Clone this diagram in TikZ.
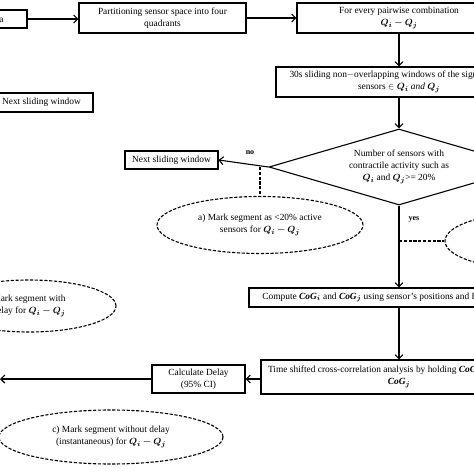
\documentclass[tikz,border=0pt]{standalone}
\usepackage{fontspec}
\setmainfont{Liberation Serif}
\usepackage{amsmath,bm}
\usetikzlibrary{arrows.meta,shapes.geometric}
\newcommand{\cogsub}[1]{\textbf{\textit{CoG}}$_{\bm{#1}}$}

\begin{document}
\begin{tikzpicture}[x=1pt, y=-1pt,
  font=\fontsize{9.4}{12}\selectfont,
  sbox/.style={draw=black, line width=1.1pt, align=center, inner sep=1pt},
  dbox/.style={diamond, draw=black, line width=1.1pt, align=center,
               inner sep=0pt, aspect=3.4},
  markell/.style={ellipse, draw=black, line width=1.1pt,
                  dash pattern=on 3.2pt off 1.6pt, align=center, inner sep=0pt},
  arr/.style={-{Straight Barb[length=4pt, width=8pt]}, line width=1.1pt},
  darr/.style={line width=1.1pt, dash pattern=on 3.2pt off 1.6pt},
  lab/.style={font=\fontsize{8}{10}\selectfont\bfseries, inner sep=1pt}
]
\useasboundingbox (0,0) rectangle (474,474);
\clip (0,0) rectangle (474,474);
% ----- top row -----
\node[sbox, minimum width=82pt, minimum height=18pt] (raw) at (-14,19) {Raw data};
\node[sbox, minimum width=167pt, minimum height=30pt] (quad) at (162.5,18)
  {Partitioning sensor space into four\\quadrants};
\node[sbox, minimum width=204pt, minimum height=30pt] (pair) at (399,18)
  {For every pairwise combination\\$\bm{Q_i - Q_j}$};
\node[sbox, minimum width=103pt, minimum height=19pt] (next1) at (41.5,102.5) {Next sliding window};
\node[sbox, minimum width=246pt, minimum height=30pt] (win) at (399,82)
  {30s sliding non$-$overlapping windows of the signals from\\sensors $\in \bm{Q_i}$ $\mathit{and}$ $\bm{Q_j}$};
% ----- decision -----
\node[dbox, minimum width=260pt, minimum height=76pt] (act) at (399,167)
  {Number of sensors with\\contractile activity such as\\$\bm{Q_i}$ and $\bm{Q_j}$>= 20\%};
\node[sbox, minimum width=93pt, minimum height=18pt] (next2) at (171.5,160) {Next sliding window};
\node[lab] (no) at (250,153) {no};
\node[lab] (yes) at (414,219) {yes};
% ----- dashed notes -----
\node[markell, minimum width=206pt, minimum height=57pt] (marka) at (260,225)
  {a) Mark segment as <20\% active\\sensors for $\bm{Q_i - Q_j}$};
\node[markell, minimum width=170pt, minimum height=56pt] (markb) at (530,241) {};
\node[markell, minimum width=174pt, minimum height=52pt] (markd) at (29,306)
  {Mark segment with\\delay for $\bm{Q_i - Q_j}$};
\node[markell, minimum width=224pt, minimum height=54pt] (markc) at (111,437)
  {c) Mark segment without delay\\(instantaneous) for $\bm{Q_i - Q_j}$};
% ----- lower column -----
\node[sbox, minimum width=300pt, minimum height=19pt] (cog) at (399,297.5)
  {Compute \cogsub{i} and \cogsub{j} using sensor's positions and HR-EHG signals};
\node[sbox, minimum width=276pt, minimum height=34pt] (xcorr) at (399,377)
  {Time shifted cross-correlation analysis by holding \cogsub{i} constant and\\\cogsub{j}};
\node[sbox, minimum width=93pt, minimum height=28pt] (delay) at (198.5,379)
  {Calculate Delay\\(95\% CI)};
\coordinate (out) at (0,379);
% ----- connectors -----
\draw[arr] (raw.east) -- (raw.east -| quad.west);
\foreach \a/\b in {quad/pair, pair/win, win/act, cog/xcorr}{\draw[arr] (\a) -- (\b);}
\draw[arr] (act.west) -- (next2.east);
\draw[arr] (act.south) -- (cog.north);
\draw[arr] (delay.east -| xcorr.west) -- (delay.east);
\draw[arr] (delay.west) -- (out);
\draw[darr] (marka.north |- act.west) -- (marka.north);
\draw[darr] (markb.west -| act.south) -- (markb.west);
\end{tikzpicture}
\end{document}
